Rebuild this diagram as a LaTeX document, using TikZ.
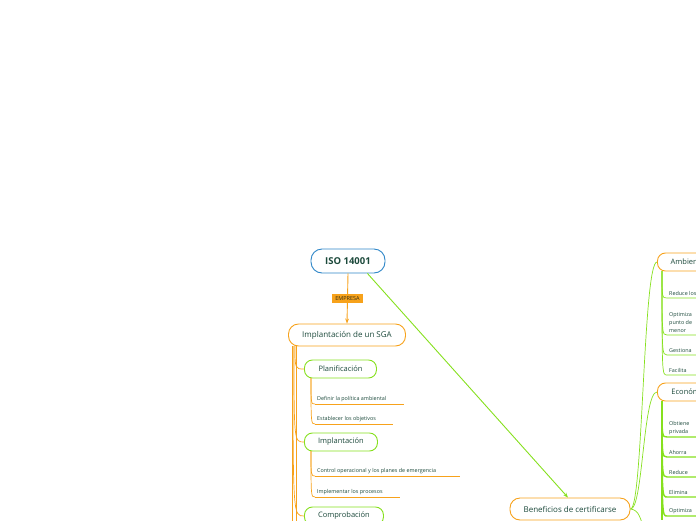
\documentclass[tikz,border=0pt]{standalone}
\usepackage{fontspec}
\setmainfont{Open Sans}
\usetikzlibrary{arrows.meta}
\definecolor{tc}{HTML}{1D4A3C}
\definecolor{orn}{HTML}{F7A21B}
\definecolor{grn}{HTML}{86E01E}
\definecolor{blu}{HTML}{2E86C8}
\tikzset{
 rbox/.style={draw, rounded corners=8pt, line width=0.9pt, fill=white, text=tc, minimum height=#1, inner xsep=9pt, inner ysep=0pt},
 rbox/.default=18pt,
 item/.style={anchor=south west, text=tc, font=\fontsize{5.4}{8}\selectfont, inner xsep=2pt, inner ysep=2pt, align=left},
 oc/.style={orn, line width=0.7pt},
 gc/.style={grn, line width=0.7pt}
}
\begin{document}
\begin{tikzpicture}[x=1pt,y=-1pt]
\useasboundingbox (0,0) rectangle (696,520);
\clip (0,0) rectangle (696,520);
\node[rbox=24pt, draw=blu, minimum width=74pt, rounded corners=11pt, font=\fontsize{9.5}{11}\selectfont\bfseries] (iso) at (348,261) {ISO 14001};
\node[rbox=22pt, draw=orn, minimum width=117pt, rounded corners=10pt, font=\fontsize{8}{10}\selectfont] (sga) at (347,335) {Implantación de un SGA};
\draw[orn, line width=0.9pt, -{Stealth[length=5pt]}] (iso.south) -- (sga.north) node[pos=0.5, fill=orn, text=tc!60!orn!40!black, font=\fontsize{5.5}{6}\selectfont, inner xsep=3pt, inner ysep=2pt] (emp) {EMPRESA};
\node[rbox=22pt, draw=orn, minimum width=120pt, rounded corners=10pt, font=\fontsize{8}{10}\selectfont] (ben) at (570,509) {Beneficios de certificarse};
\draw[grn, line width=0.9pt, -{Stealth[length=5pt]}] (iso.south east) ++(-18,0) coordinate (isoe) -- ([xshift=-2pt]ben.north);
\node[rbox, draw=grn, minimum width=72pt, font=\fontsize{7.5}{9}\selectfont, anchor=west] (pla) at (304,369) {Planificación};
\node[rbox, draw=grn, minimum width=73pt, font=\fontsize{7.5}{9}\selectfont, anchor=west] (imp) at (304,442) {Implantación};
\node[rbox, draw=grn, minimum width=79pt, font=\fontsize{7.5}{9}\selectfont, anchor=west] (com) at (304,516) {Comprobación};
\coordinate (s0) at (293,346);
\foreach \n/\dx in {pla/2,imp/1,com/0}{
 \draw[oc] ([xshift=\dx pt]s0) .. controls ([xshift=\dx pt]s0 |- \n.west) .. (\n.west);
}
\foreach \dx in {-1,3}{\draw[oc] ([xshift=\dx pt]s0) -- ++(0,180);}
\node[item] (a1) at (315,404) {Definir la política ambiental};
\node[item] (a2) at (315,424) {Establecer los objetivos};
\node[item] (b1) at (315,476) {Control operacional y los planes de emergencia};
\node[item] (b2) at (315,497) {Implementar los procesos};
\draw[oc] (a1.south west) -- (404,404);
\draw[oc] (a2.south west) -- (393,424);
\draw[oc] (b1.south west) -- (460,476);
\draw[oc] (b2.south west) -- (400,497);
\coordinate (pb) at (311,378);
\coordinate (ib) at (311,451);
\foreach \c/\p in {a1/pb,a2/pb,b1/ib,b2/ib}{
 \draw[oc] (\p) .. controls (\p |- \c.south west) .. (\c.south west);
}
\node[rbox, draw=orn, minimum width=70pt, font=\fontsize{7.5}{9}\selectfont, anchor=west] (amb) at (657,262) {Ambientales};
\node[rbox, draw=orn, minimum width=70pt, font=\fontsize{7.5}{9}\selectfont, anchor=west] (eco) at (657,392) {Económicos};
\coordinate (k) at (643,0);
\foreach \n in {amb,eco}{
 \draw[gc] (ben.east) .. controls (643,510) and (k |- \n.west) .. (\n.west);
}
\draw[gc] (ben.east) .. controls (640,510) and (640,520) .. (645,530);
\node[item] (c1) at (667,298) {Reduce los residuos};
\node[item] (c2) at (667,335) {Optimiza\\punto de\\menor};
\node[item] (c3) at (667,355) {Gestiona};
\node[item] (c4) at (667,375) {Facilita};
\node[item] (d1) at (667,437) {Obtiene\\privada};
\node[item] (d2) at (667,457) {Ahorra};
\node[item] (d3) at (667,477) {Reduce};
\node[item] (d4) at (667,497) {Elimina};
\node[item] (d5) at (667,516) {Optimiza};
\coordinate (ab) at (662,271);
\coordinate (eb) at (662,401);
\foreach \c in {c1,c2,c3,c4}{
 \draw[gc] (ab) .. controls (ab |- \c.south west) .. (\c.south west) -- ++(40,0);
}
\foreach \c in {d1,d2,d3,d4,d5}{
 \draw[grn, line width=1.4pt] (eb) .. controls (eb |- \c.south west) .. (\c.south west) -- ++(40,0);
}
\draw[grn, line width=1.5pt] (eb) -- (662,520);
\end{tikzpicture}
\end{document}
